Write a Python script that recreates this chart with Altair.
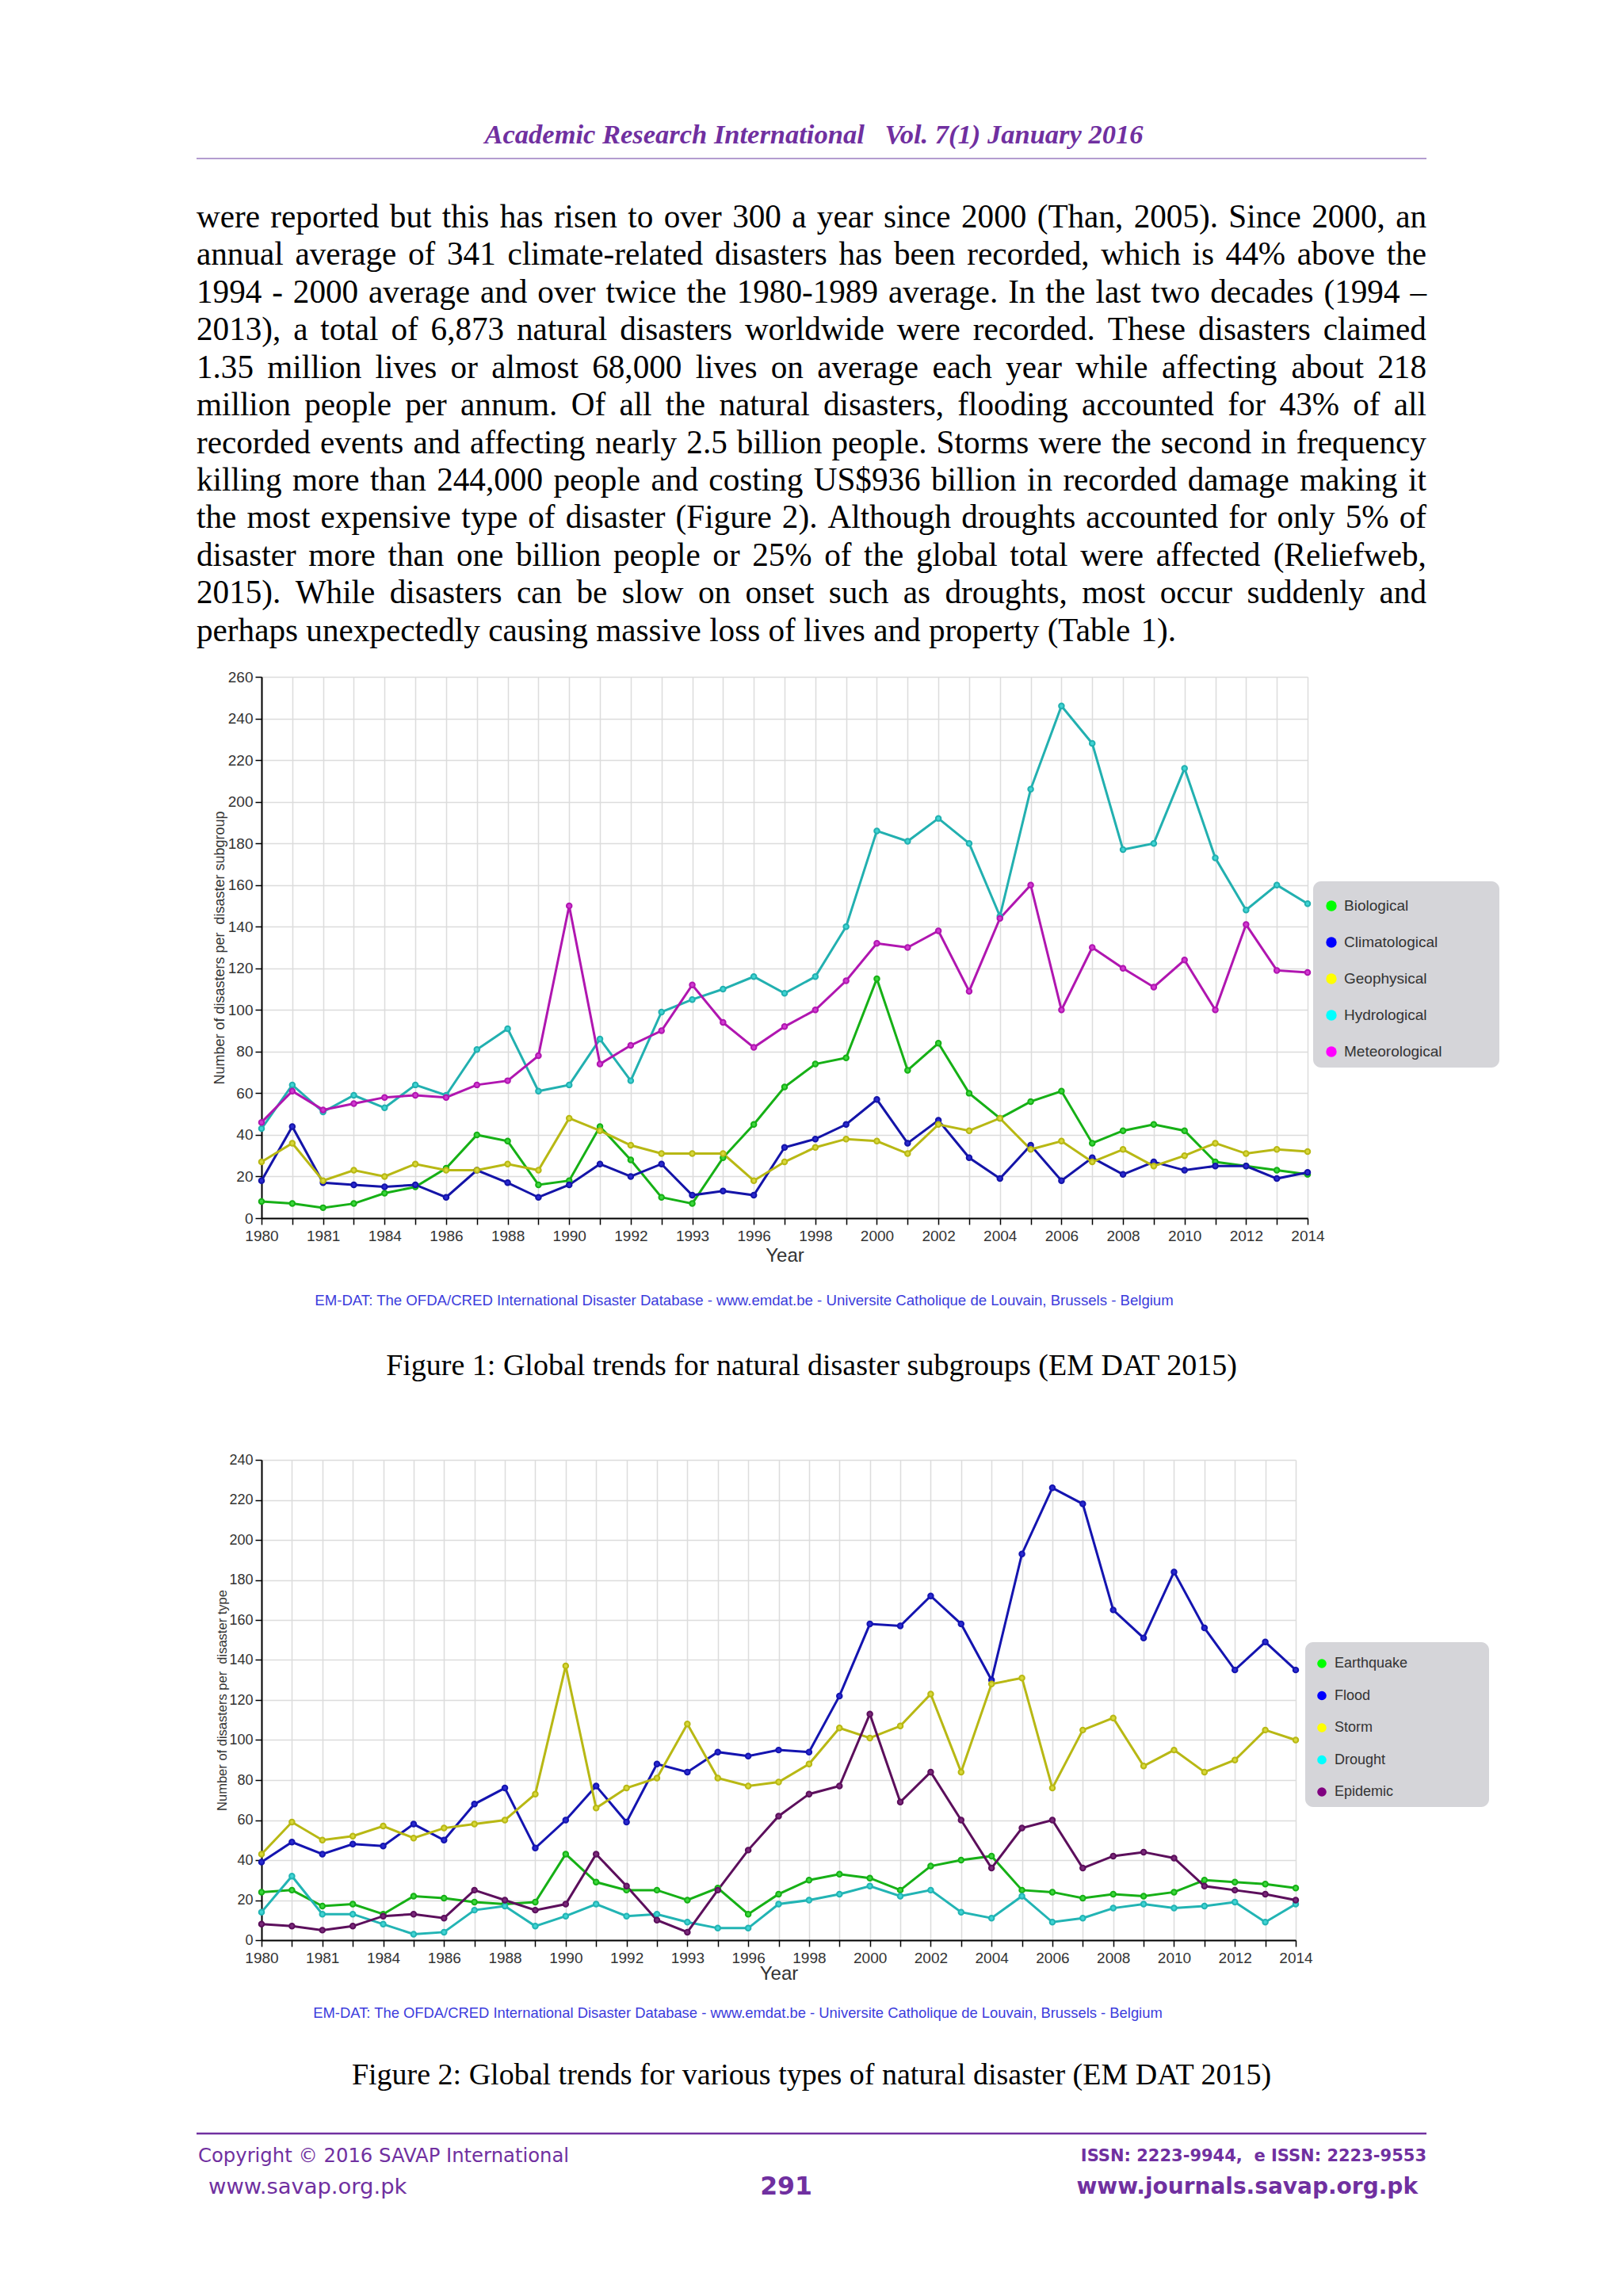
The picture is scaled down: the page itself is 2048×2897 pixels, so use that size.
import json
import altair as alt
import pandas as pd

# ---------------- data ----------------
years = list(range(1980, 2015))
xlabels = ['1980', '1981', '1984', '1986', '1988', '1990', '1992', '1993', '1996',
           '1998', '2000', '2002', '2004', '2006', '2008', '2010', '2012', '2014']

sub_names = ['Biological', 'Climatological', 'Geophysical', 'Hydrological', 'Meteorological']
biological = [8, 7, 5, 7, 12, 15, 24, 40, 37, 16, 18, 44, 28, 10, 7, 29, 45, 63, 74, 77,
              115, 71, 84, 60, 48, 56, 61, 36, 42, 45, 42, 27, 25, 23, 21]
climatological = [18, 44, 17, 16, 15, 16, 10, 23, 17, 10, 16, 26, 20, 26, 11, 13, 11, 34, 38, 45,
                  57, 36, 47, 29, 19, 35, 18, 29, 21, 27, 23, 25, 25, 19, 22]
geophysical = [27, 36, 18, 23, 20, 26, 23, 23, 26, 23, 48, 42, 35, 31, 31, 31, 18, 27, 34, 38,
               37, 31, 45, 42, 48, 33, 37, 27, 33, 25, 30, 36, 31, 33, 32]
hydrological = [43, 64, 51, 59, 53, 64, 59, 81, 91, 61, 64, 86, 66, 99, 105, 110, 116, 108, 116, 140,
                186, 181, 192, 180, 145, 206, 246, 228, 177, 180, 216, 173, 148, 160, 151]
meteorological = [46, 61, 52, 55, 58, 59, 58, 64, 66, 78, 150, 74, 83, 90, 112, 94, 82, 92, 100, 114,
                  132, 130, 138, 109, 144, 160, 100, 130, 120, 111, 124, 100, 141, 119, 118]

type_names = ['Earthquake', 'Flood', 'Storm', 'Drought', 'Epidemic']
earthquake = [24, 25, 17, 18, 13, 22, 21, 19, 18, 19, 43, 29, 25, 25, 20, 26, 13, 23, 30, 33,
              31, 25, 37, 40, 42, 25, 24, 21, 23, 22, 24, 30, 29, 28, 26]
flood = [39, 49, 43, 48, 47, 58, 50, 68, 76, 46, 60, 77, 59, 88, 84, 94, 92, 95, 94, 122,
         158, 157, 172, 158, 130, 193, 226, 218, 165, 151, 184, 156, 135, 149, 135]
storm = [43, 59, 50, 52, 57, 51, 56, 58, 60, 73, 137, 66, 76, 81, 108, 81, 77, 79, 88, 106,
         101, 107, 123, 84, 128, 131, 76, 105, 111, 87, 95, 84, 90, 105, 100]
drought = [14, 32, 13, 13, 8, 3, 4, 15, 17, 7, 12, 18, 12, 13, 9, 6, 6, 18, 20, 23,
           27, 22, 25, 14, 11, 22, 9, 11, 16, 18, 16, 17, 19, 9, 18]
epidemic = [8, 7, 5, 7, 12, 13, 11, 25, 20, 15, 18, 43, 27, 10, 4, 25, 45, 62, 73, 77,
            113, 69, 84, 60, 36, 56, 60, 36, 42, 44, 41, 27, 25, 23, 20]

header_text = 'Academic Research International\u00a0\u00a0\u00a0Vol. 7(1) January 2016'
paragraph = [
    'were reported but this has risen to over 300 a year since 2000 (Than, 2005). Since 2000, an',
    'annual average of 341 climate-related disasters has been recorded, which is 44% above the',
    '1994 - 2000 average and over twice the 1980-1989 average. In the last two decades (1994 \u2013',
    '2013), a total of 6,873 natural disasters worldwide were recorded. These disasters claimed',
    '1.35 million lives or almost 68,000 lives on average each year while affecting about 218',
    'million people per annum. Of all the natural disasters, flooding accounted for 43% of all',
    'recorded events and affecting nearly 2.5 billion people. Storms were the second in frequency',
    'killing more than 244,000 people and costing US$936 billion in recorded damage making it',
    'the most expensive type of disaster (Figure 2). Although droughts accounted for only 5% of',
    'disaster more than one billion people or 25% of the global total were affected (Reliefweb,',
    '2015). While disasters can be slow on onset such as droughts, most occur suddenly and',
    'perhaps unexpectedly causing massive loss of lives and property (Table 1).',
]
source_text = ('EM-DAT: The OFDA/CRED International Disaster Database - www.emdat.be - '
               'Universite Catholique de Louvain, Brussels - Belgium')
caption1 = 'Figure 1: Global trends for natural disaster subgroups (EM DAT 2015)'
caption2 = 'Figure 2: Global trends for various types of natural disaster (EM DAT 2015)'
ytitle1 = 'Number of disasters per\u00a0 disaster subgroup'
ytitle2 = 'Number of disasters per\u00a0 disaster type'

# ---------------- styles ----------------
c1_dark = ['#16b016', '#1414a8', '#b8b814', '#22b0b0', '#b016b0']
c1_fill = ['#3cd83c', '#2a2ad0', '#d8d83a', '#40d4d4', '#d23ad2']
c1_leg = ['#00ff00', '#0000ff', '#ffff00', '#00ffff', '#ff00ff']
c2_dark = ['#16b016', '#1414b0', '#b8b814', '#22b4b4', '#5c0f5c']
c2_fill = ['#3cd83c', '#2a2ad0', '#d8d83a', '#40d4d4', '#7a2a7a']
c2_leg = ['#00ff00', '#0000ff', '#ffff00', '#00ffff', '#800080']
PURPLE = '#7030a0'
SRC_BLUE = '#3c3cdc'
SANS = 'Liberation Sans'
SERIF = 'Liberation Serif'

OX = 330  # page x of plot-area left edge (all panels)
CX = 1024  # page centre of the text column

dummy = pd.DataFrame({'d': [0]})


def txt(s, x, y, size, font=SANS, color='black', align='left', baseline='middle',
        weight='normal', style='normal'):
    return alt.Chart(dummy).mark_text(
        text=s, font=font, fontSize=size, color=color, align=align, baseline=baseline,
        fontWeight=weight, fontStyle=style).encode(x=alt.value(x), y=alt.value(y))


def hrule(x1, x2, y, color, w):
    return alt.Chart(dummy).mark_rule(color=color, strokeWidth=w).encode(
        x=alt.value(x1), x2=alt.value(x2), y=alt.value(y))


def long_df(names, series):
    rows = []
    for n, s in zip(names, series):
        for i, v in enumerate(s):
            rows.append({'idx': i, 'year': years[i], 'series': n, 'value': v})
    return pd.DataFrame(rows)


# Times metrics (per 1000 em) for justified paragraph layout
TW = {' ': 250, '.': 250, ',': 250, '(': 333, ')': 333, '-': 333, '%': 833, '$': 500,
      ':': 278, ';': 278, '\u2013': 500}
for ch, w in zip('abcdefghijklmnopqrstuvwxyz',
                 [444, 500, 444, 500, 444, 333, 500, 500, 278, 278, 500, 278, 778, 500, 500,
                  500, 500, 333, 389, 278, 500, 500, 722, 500, 500, 444]):
    TW[ch] = w
for ch, w in zip('ABCDEFGHIJKLMNOPQRSTUVWXYZ',
                 [722, 667, 667, 722, 611, 556, 722, 722, 333, 389, 722, 611, 889, 722, 722,
                  556, 722, 667, 556, 611, 722, 722, 944, 722, 722, 611]):
    TW[ch] = w
for ch in '0123456789':
    TW[ch] = 500


def tw(s):
    return sum(TW.get(c, 500) for c in s) / 1000.0


LEFT, RIGHT = 248.0, 1800.0
fs_body = 1236.0 / tw(paragraph[-1])
rows = []
for k, line in enumerate(paragraph):
    words = line.split(' ')
    widths = [tw(w) * fs_body for w in words]
    if k < len(paragraph) - 1:
        gap = (RIGHT - LEFT - sum(widths)) / (len(words) - 1)
    else:
        gap = tw(' ') * fs_body
    base = 287.0 + k * 47.43
    x = LEFT
    for w, wd in zip(words, widths):
        rows.append({'w': w, 'px': x - OX, 'py': base - 8})
        x += wd + gap
words_df = pd.DataFrame(rows)

# ---------------- top text panel (page y 8..854) ----------------
top_layers = [
    alt.Chart(dummy).mark_rect(color='white').encode(
        x=alt.value(-322), x2=alt.value(1710), y=alt.value(0), y2=alt.value(2881)),
    txt(header_text, 1027 - OX, 171 - 8, 34.5, font=SERIF, color=PURPLE, align='center',
        weight='bold', style='italic'),
    hrule(LEFT - OX, RIGHT - OX, 200 - 8, '#9a7cc0', 1.5),
    alt.Chart(words_df).mark_text(font=SERIF, fontSize=fs_body, align='left',
                                  baseline='alphabetic', color='black').encode(
        x=alt.X('px:Q', scale=None), y=alt.Y('py:Q', scale=None), text='w:N'),
]
p_top = alt.layer(*top_layers).properties(width=1320, height=846)


# ---------------- chart builder ----------------
def line_panel(names, series, dark, fill, leg, ymax, width, height, ytitle, ytitle_x,
               ytitle_size, ylab_size, year_y, leg_box, leg_y0, leg_dy, leg_sym_x,
               leg_txt_x, leg_size, leg_sym):
    df = long_df(names, series)
    full_labels = [xlabels[i // 2] if i % 2 == 0 else '' for i in range(35)]
    label_expr = json.dumps(full_labels) + '[round(datum.value)]'
    xenc = alt.X('idx:Q', scale=alt.Scale(domain=[0, 34], nice=False, zero=False),
                 axis=alt.Axis(values=list(range(35)), labelExpr=label_expr,
                               labelOverlap=False, labelFlush=False, grid=True,
                               gridColor='#dcdcdc', gridWidth=1.5, domainColor='black',
                               domainWidth=2, tickColor='black', tickWidth=1.5, tickSize=8,
                               labelFontSize=19, labelColor='#333333', labelPadding=5,
                               labelFont=SANS, title='Year', titleFont=SANS,
                               titleFontSize=24, titleFontWeight='normal',
                               titleColor='#333333', titleX=width / 2, titleY=year_y,
                               titleBaseline='middle', titleAlign='center'))
    yenc = alt.Y('value:Q', scale=alt.Scale(domain=[0, ymax], nice=False, zero=True),
                 axis=alt.Axis(values=list(range(0, ymax + 1, 20)), labelOverlap=False,
                               labelFlush=False, grid=True, gridColor='#dcdcdc',
                               gridWidth=1.5, domainColor='black', domainWidth=2,
                               tickColor='black', tickWidth=1.5, tickSize=8,
                               labelFontSize=ylab_size, labelColor='#333333',
                               labelPadding=3, labelFont=SANS, title=ytitle,
                               titleFont=SANS, titleFontSize=ytitle_size,
                               titleFontWeight='normal', titleColor='#333333',
                               titleX=ytitle_x, titleY=height / 2, titleAngle=270,
                               titleBaseline='middle', titleAlign='center'))
    base = alt.Chart(df)
    lines = base.mark_line(strokeWidth=3).encode(
        x=xenc, y=yenc,
        color=alt.Color('series:N', scale=alt.Scale(domain=names, range=dark), legend=None),
        order='idx:Q')
    pts = base.mark_point(shape='circle', size=42, strokeWidth=2, opacity=1,
                          filled=True).encode(
        x=xenc, y=yenc,
        fill=alt.Fill('series:N', scale=alt.Scale(domain=names, range=fill), legend=None),
        stroke=alt.Stroke('series:N', scale=alt.Scale(domain=names, range=dark),
                          legend=None))
    layers = [lines, pts]
    bx1, bx2, by1, by2 = leg_box
    layers.append(alt.Chart(dummy).mark_rect(color='#d5d5d9', cornerRadius=10).encode(
        x=alt.value(bx1), x2=alt.value(bx2), y=alt.value(by1), y2=alt.value(by2)))
    for i, (n, c) in enumerate(zip(names, leg)):
        yv = leg_y0 + i * leg_dy
        layers.append(alt.Chart(dummy).mark_circle(color=c, size=leg_sym, opacity=1).encode(
            x=alt.value(leg_sym_x), y=alt.value(yv)))
        layers.append(txt(n, leg_txt_x, yv, leg_size, color='#333333'))
    return alt.layer(*layers).properties(width=width, height=height)


p1 = line_panel(sub_names, [biological, climatological, geophysical, hydrological, meteorological],
                c1_dark, c1_fill, c1_leg, 260, 1320, 683, ytitle1, -53, 18, 19, 47,
                (1327, 1562, 258, 493), 289, 46, 1350, 1366, 19, 180)

p2 = line_panel(type_names, [earthquake, flood, storm, drought, epidemic],
                c2_dark, c2_fill, c2_leg, 240, 1305, 606, ytitle2, -50, 16.5, 18, 42,
                (1317, 1549, 230, 438), 257, 40.5, 1338, 1354, 18, 135)

# ---------------- middle panel (page y 1537..1842) ----------------
p_mid = alt.layer(
    txt(source_text, 939 - OX, 1641 - 1537, 18.6, color=SRC_BLUE, align='center'),
    txt(caption1, CX - OX, 1724 - 1537, 38, font=SERIF, align='center'),
).properties(width=1320, height=305)

# ---------------- bottom panel (page y 2448..2889) ----------------
B = 2448
p_bot = alt.layer(
    txt(source_text, 931 - OX, 2540 - B, 18.4, color=SRC_BLUE, align='center'),
    txt(caption2, CX - OX, 2619 - B, 38, font=SERIF, align='center'),
    hrule(LEFT - OX, RIGHT - OX, 2692 - B, PURPLE, 2.5),
    txt('Copyright \u00a9 2016 SAVAP International', 250 - OX, 2721 - B, 24.3,
        font='DejaVu Sans', color=PURPLE),
    txt('www.savap.org.pk', 263 - OX, 2760 - B, 27.4, font='DejaVu Sans', color=PURPLE),
    txt('291', 992 - OX, 2760 - B, 31.5, font='DejaVu Sans', color=PURPLE, align='center',
        weight='bold'),
    txt('ISSN: 2223-9944,\u00a0 e ISSN: 2223-9553', 1800 - OX, 2721 - B, 21,
        font='DejaVu Sans', color=PURPLE, align='right', weight='bold'),
    txt('www.journals.savap.org.pk', 1789 - OX, 2760 - B, 28, font='DejaVu Sans',
        color=PURPLE, align='right', weight='bold'),
).properties(width=1320, height=441)

chart = alt.vconcat(p_top, p1, p_mid, p2, p_bot, spacing=0, bounds='flush').resolve_scale(
    color='independent', fill='independent', stroke='independent').properties(
    padding=0).configure_view(strokeWidth=0)

chart.save('out.html', embed_options={'renderer': 'svg', 'actions': False})
